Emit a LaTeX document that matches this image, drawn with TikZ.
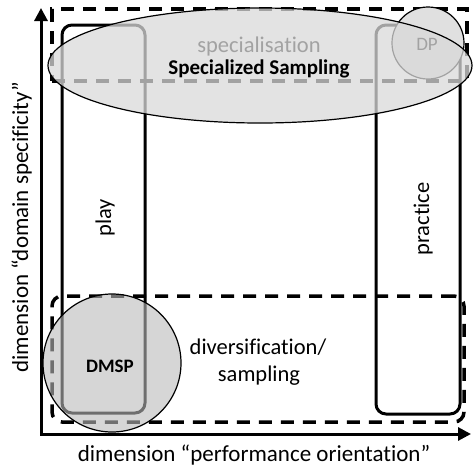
\documentclass[tikz,border=0pt]{standalone}
\usepackage{fontspec}
\setmainfont{Carlito}[Ligatures=NoCommon]
\usetikzlibrary{arrows.meta,shapes.geometric}
\begin{document}
\begin{tikzpicture}[x=1pt,y=-1pt,
  axisline/.style={line width=3pt,line join=miter,{Triangle[length=13pt,width=13pt]}-{Triangle[length=13pt,width=13pt]}},
  phasebox/.style={draw,line width=3pt,rounded corners=10pt,inner sep=0pt,minimum width=#1},
  zonebox/.style={draw,line width=3.5pt,dash pattern=on 13pt off 9pt,inner sep=0pt},
  lbl/.style={font=\fontsize{22.5}{26}\selectfont,inner sep=0pt},
  axlbl/.style={font=\fontsize{23}{26}\selectfont,inner sep=0pt},
  smalllbl/.style={font=\fontsize{19}{22}\selectfont\bfseries,inner sep=0pt},
]
\useasboundingbox (0,0) rectangle (474,472);

% axes
\coordinate (ytip) at (41,8);
\coordinate (orig) at (41,434);
\coordinate (xtip) at (471,434);
\draw[axisline] (ytip) -- (orig) -- (xtip);

% boxes
\node[phasebox=83pt,minimum height=388pt] (play) at (103.5,219) {};
\node[phasebox=84pt,minimum height=389pt] (practice) at (418,219.5) {};
\node[zonebox,minimum width=415pt,minimum height=72pt] (spec) at (259.5,45) {};
\node[zonebox,rounded corners=10pt,minimum width=412pt,minimum height=126pt] (div) at (258,359) {};

% DP circle (under ellipse)
\node[circle,draw,line width=1.2pt,fill=black!12,minimum size=72pt,inner sep=0pt] (dp) at (428,43) {};
\node[font=\fontsize{19}{22}\selectfont,inner sep=0pt,anchor=base] (dplbl) at (427,50) {DP};
\node[lbl,anchor=base] (speclbl) at (259,52) {specialisation};

% ellipse
\node[ellipse,draw,line width=1.2pt,fill=black!15,fill opacity=0.75,minimum width=424pt,minimum height=115pt,inner sep=0pt] (ss) at (260,65.5) {};
\node[font=\fontsize{21}{24}\selectfont\bfseries,inner sep=0pt,anchor=base] (sslbl) at (259,74) {Specialized Sampling};

% DMSP circle
\node[circle,draw,line width=1.2pt,fill=black!27,fill opacity=0.6,minimum size=138pt,inner sep=0pt] (dmsp) at (112,363) {};
\node[smalllbl,anchor=base] (dmsplbl) at (110,372) {DMSP};

% labels
\node[lbl,anchor=base,rotate=90] (playlbl) at (111,218) {play};
\node[lbl,anchor=base,rotate=90] (practlbl) at (429,219) {practice};
\node[lbl,anchor=base] (divlbl1) at (258,354) {diversification/};
\node[lbl,anchor=base] (divlbl2) at (259,381) {sampling};
\node[axlbl,anchor=base] (xlbl) at (254,461) {dimension “performance orientation”};
\node[axlbl,anchor=base,rotate=90] (ylbl) at (28,227) {dimension “domain specificity”};
\end{tikzpicture}
\end{document}
